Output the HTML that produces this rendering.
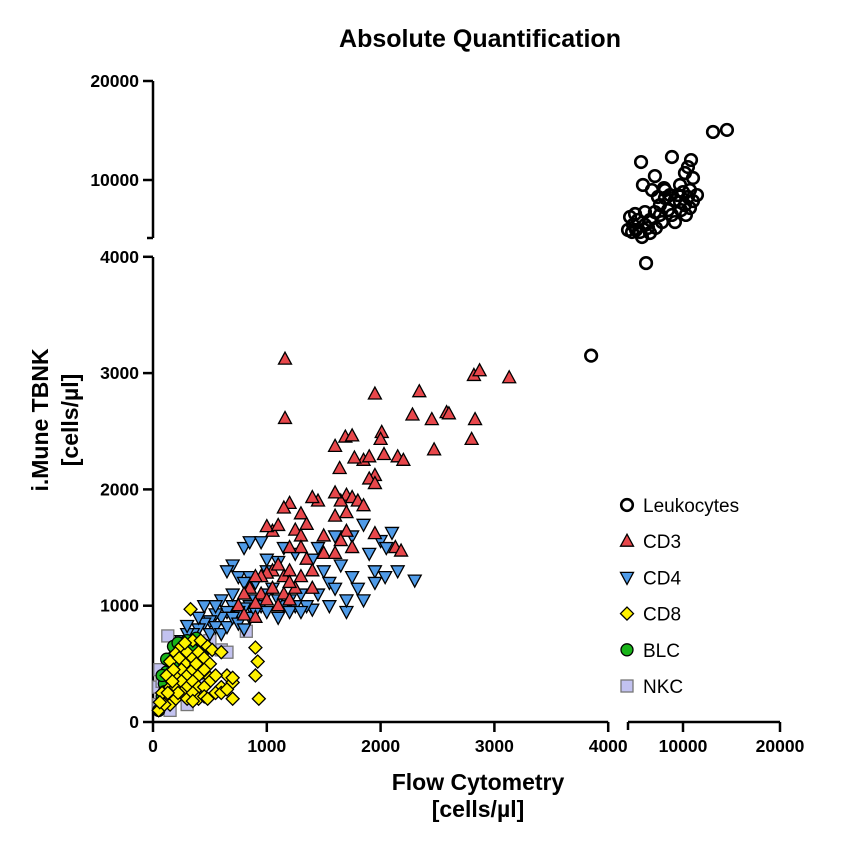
<!DOCTYPE html>
<html><head><meta charset="utf-8"><style>
body{margin:0;background:#fff}
svg text{font-family:"Liberation Sans",Arial,sans-serif;font-weight:bold;fill:#000}
</style></head><body>
<svg id="chart" width="842" height="842" viewBox="0 0 842 842" xmlns="http://www.w3.org/2000/svg">
<text x="480" y="47" font-size="25" text-anchor="middle">Absolute Quantification</text>
<text transform="translate(48,420) rotate(-90)" font-size="23" text-anchor="middle">i.Mune TBNK</text>
<text transform="translate(78,420) rotate(-90)" font-size="23" text-anchor="middle">[cells/µl]</text>
<text x="478" y="790" font-size="23" text-anchor="middle">Flow Cytometry</text>
<text x="478" y="817" font-size="23" text-anchor="middle">[cells/µl]</text>
<g id="axes"></g>
<g id="marks"></g>
<g id="legend"></g>
</svg>
<script>
const leukX=[7410,9240,10590,10360,10140,8180,10740,7510,9790,8010,8790,10510,11050,6850,7000,6750,6950,7360,7620,7900,8180,8480,8790,9110,9440,9790,10140,10510,7790,7250,8480,8980,9240,9650,10000,10360,10740,8610,8240,7900,7460,7150,7100,7620,9440,9860,10210,8360,8730,7680,12390,13690];
const leukY=[11340,11750,11500,10950,10500,10280,10140,9660,9660,9320,9320,9320,9000,7720,7300,7050,6950,6950,7300,7560,7990,8390,8820,9000,8690,8570,8390,8220,7150,7560,7830,8100,7830,9000,9190,8880,8630,7450,7150,6900,6710,7050,7880,7990,7450,8100,7830,8880,9450,5590,14000,14200];
const leukLowX=[3850];
const leukLowY=[3150];
const cd3X=[1160,1160,1950,2340,2450,2580,2600,2470,2820,2870,3130,2800,2830,2280,2010,2000,1690,1750,1600,1850,1900,1950,2150,2200,2030,1770,1640,1900,1950,1700,1650,1600,1750,1800,1850,1700,1600,1450,1400,1200,1150,1300,1350,1250,1300,1700,1650,1750,2130,2180,1950,1500,1300,1050,1000,1100,1200,1050,1100,1000,950,1150,1200,1300,1400,1250,1150,1050,900,850,950,1000,800,750,900,1100,1200,1350,1600,1500,1400,1200,900,800];
const cd3Y=[3120,2610,2820,2840,2600,2660,2650,2340,2980,3020,2960,2430,2600,2640,2490,2430,2450,2460,2370,2250,2280,2120,2280,2250,2300,2270,2180,2090,2050,1950,1900,1970,1930,1900,1860,1800,1770,1900,1930,1880,1840,1790,1700,1650,1600,1640,1560,1500,1500,1470,1620,1450,1500,1640,1680,1690,1500,1300,1350,1280,1250,1250,1300,1250,1300,1150,1100,1150,1250,1150,1100,1050,1100,1000,1020,1000,1200,1400,1450,1600,1150,1050,900,920];
const cd4X=[2300,2100,2000,1900,2050,2150,1950,1950,2040,1700,1400,1450,1550,1600,1500,1400,1250,1150,1100,800,850,950,700,750,650,850,900,1000,1050,1200,1300,1350,1250,1150,1100,1000,950,900,850,800,750,700,650,600,550,500,450,400,350,300,500,550,600,650,700,750,800,850,900,1000,1100,1200,1300,1550,1700,1800,1850,1750,1650,1450,400,450,300,250,350,1000,1600,1750,1850,600,700,800,550];
const cd4Y=[1220,1630,1560,1450,1500,1300,1300,1200,1250,950,970,1100,1200,1150,1300,1400,1450,1500,1380,1500,1550,1550,1350,1250,1300,1250,1200,1300,1150,1050,1100,1000,1000,1000,1050,1100,1000,1050,1000,980,950,1000,950,900,930,870,850,800,760,760,760,820,760,820,900,850,800,900,950,950,900,950,950,1000,1050,1150,1050,1250,1350,1500,900,1000,830,700,680,1400,1600,1600,1700,1050,1100,1200,1000];
const blcX=[50,80,100,120,150,180,200,250,300,350,400,300,350,250,200,150,100,400,450,300,250,350,420,180,120,450,250,380,300,80,220,330];
const blcY=[100,220,330,430,520,560,600,640,660,680,640,700,620,560,470,380,260,580,620,420,350,360,420,650,540,660,560,720,520,400,680,560];
const cd8X=[330,900,920,900,650,700,930,500,350,200,150,250,300,280,350,400,450,500,200,250,300,350,400,450,500,550,600,150,200,250,300,350,400,450,550,600,700,100,150,200,250,300,350,400,50,100,80,120,180,230,280,420,480,520,600,650,350,450,700,480,380,220,170,130,60];
const cd8Y=[970,640,520,400,400,340,200,380,700,590,520,650,600,500,550,600,550,500,400,450,400,450,400,450,350,400,300,300,300,350,300,350,300,300,250,250,200,200,150,200,250,200,250,200,100,150,250,400,450,550,680,700,650,620,600,280,180,220,380,200,500,250,350,250,170];
const nkcX=[130,820,60,50,100,150,300,400,600,500,50,80,650,200,250];
const nkcY=[740,780,450,300,200,100,150,380,620,700,150,350,600,250,350];
const yTicksLow=[0,1000,2000,3000,4000];
const yTicksHigh=[10000,20000];
const xTicksLow=[0,1000,2000,3000,4000];
const xTicksHigh=[10000,20000];
const legendLabels=["Leukocytes","CD3","CD4","CD8","BLC"," NKC"];

const NS="http://www.w3.org/2000/svg";
const X0=153,Y0=722;
function xLow(v){return X0+v*0.1138;}
function yLow(v){return Y0-v*0.1163;}
function xHigh(v){return 683+97*Math.log2(v/10000);}
function yHigh(v){return 180-99*Math.log2(v/10000);}
function mk(tag,attrs,parent){const e=document.createElementNS(NS,tag);for(const k in attrs)e.setAttribute(k,attrs[k]);parent.appendChild(e);return e;}
const axes=document.getElementById('axes'),marks=document.getElementById('marks'),legend=document.getElementById('legend');
const ax={stroke:'#000','stroke-width':2.5,fill:'none'};
function line(x1,y1,x2,y2,name){const l=mk('line',Object.assign({x1,y1,x2,y2},ax),axes);}
function label(x,y,t,anchor,name){const e=mk('text',{x,y,'font-size':17.5,'text-anchor':anchor},axes);e.textContent=t;}
line(X0,yHigh(20000),X0,238,'y-axis-upper');
line(X0,257,X0,Y0,'y-axis-lower');
line(X0-6,238,X0,238,'y-break-tick');
yTicksLow.forEach(v=>{const y=yLow(v);line(X0-10,y,X0,y,'y-tick');label(X0-14,y+6,String(v),'end','y-tick-label');});
yTicksHigh.forEach(v=>{const y=yHigh(v);line(X0-10,y,X0,y,'y-tick');label(X0-14,y+6,String(v),'end','y-tick-label');});
line(X0,Y0,xLow(4000),Y0,'x-axis-lower');
line(628,Y0,xHigh(20000),Y0,'x-axis-upper');
line(628,Y0,628,Y0+8,'x-break-tick');
xTicksLow.forEach(v=>{const x=xLow(v);line(x,Y0,x,Y0+10,'x-tick');label(x,Y0+30,String(v),'middle','x-tick-label');});
xTicksHigh.forEach(v=>{const x=xHigh(v);line(x,Y0,x,Y0+10,'x-tick');label(x,Y0+30,String(v),'middle','x-tick-label');});

function marker(type,x,y,parent){
  let e;const st={stroke:'#000','stroke-width':1.3};
  if(type==='circle')e=mk('circle',Object.assign({cx:x,cy:y,r:5.8,fill:'none'},st,{'stroke-width':2.6}),parent);
  else if(type==='dot')e=mk('circle',Object.assign({cx:x,cy:y,r:6,fill:'#19b419'},st),parent);
  else if(type==='up')e=mk('polygon',Object.assign({points:`${x},${y-7} ${x+6.5},${y+5} ${x-6.5},${y+5}`,fill:'#e8474b'},st),parent);
  else if(type==='down')e=mk('polygon',Object.assign({points:`${x},${y+7} ${x+6.5},${y-5} ${x-6.5},${y-5}`,fill:'#4f9be8'},st),parent);
  else if(type==='dia')e=mk('polygon',Object.assign({points:`${x},${y-6.5} ${x+6.5},${y} ${x},${y+6.5} ${x-6.5},${y}`,fill:'#fff200'},st),parent);
  else e=mk('rect',Object.assign({x:x-6,y:y-6,width:12,height:12,fill:'#c2c2f0'},st,{stroke:'#777'}),parent);
  return e;
}
function series(xs,ys,type,fx,fy,name){
  const g=mk('g',{},marks);
  xs.forEach((v,i)=>{const e=marker(type,fx(v),fy(ys[i]),g);
    
    });
}
series(nkcX,nkcY,'sq',xLow,yLow,'nkc');
series(cd4X,cd4Y,'down',xLow,yLow,'cd4');
series(cd3X,cd3Y,'up',xLow,yLow,'cd3');
series(blcX,blcY,'dot',xLow,yLow,'blc');
series(cd8X,cd8Y,'dia',xLow,yLow,'cd8');
series(leukX,leukY,'circle',xHigh,yHigh,'leukocytes');
series(leukLowX,leukLowY,'circle',xLow,yLow,'leukocytes-low');

const types=['circle','up','down','dia','dot','sq'];
legendLabels.forEach((t,i)=>{
  const y=505+i*36.2;
  const g=mk('g',{},legend);
  
  
  marker(types[i],627,y,g);
  const tx=mk('text',{x:643,y:y+7,'font-size':19},g);
  tx.setAttribute('style','font-weight:normal');
  tx.textContent=t;
});
</script>
</body></html>
